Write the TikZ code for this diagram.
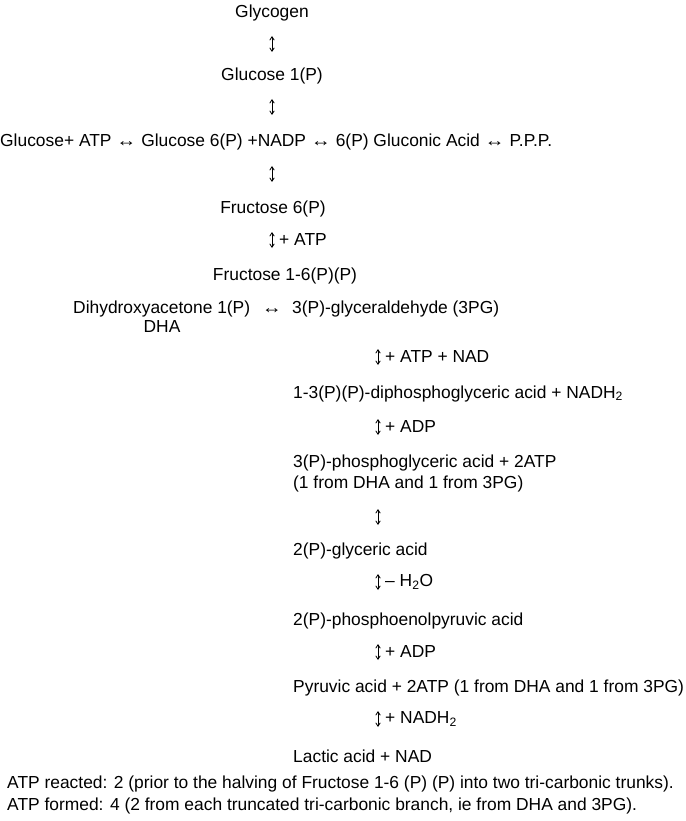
\documentclass[tikz,border=0pt]{standalone}
\usepackage{fontspec}
\usepackage{graphicx}
\setmainfont{Liberation Sans}
\usetikzlibrary{arrows.meta}
\newcommand{\lrarr}{\scalebox{1.15}[1]{↔}}
\begin{document}
\begin{tikzpicture}[x=1pt,y=-1pt,
  txt/.style={inner sep=0pt,font=\fontsize{17.4}{21}\selectfont},
  vud/.style={{Straight Barb[length=3.5pt,width=4.5pt]}-{Straight Barb[length=3.5pt,width=4.5pt]},line width=0.8pt}]
\useasboundingbox (0,0) rectangle (685,821);
% top column
\node[txt,anchor=base] (gly) at (272,18) {Glycogen};
\node[txt,anchor=base] (g1p) at (272,81) {Glucose 1(P)};
\node[txt,anchor=base west] (main) at (0,147) {Glucose+ ATP \lrarr{} Glucose 6(P) +NADP \lrarr{} 6(P) Gluconic Acid \lrarr{} P.P.P.};
\node[txt,anchor=base] (f6p) at (273,213) {Fructose 6(P)};
\node[txt,anchor=base] (f16) at (285,280) {Fructose 1-6(P)(P)};
\node[txt,anchor=base west] (dha1) at (73,313) {Dihydroxyacetone 1(P)};
\node[txt,anchor=base] (dhaarr) at (272,313) {\lrarr};
\node[txt,anchor=base west] (gap) at (292,313) {3(P)-glyceraldehyde (3PG)};
\node[txt,anchor=base] (dha) at (162,332) {DHA};
% lower column
\node[txt,anchor=base west] (dpg) at (293,398) {1-3(P)(P)-diphosphoglyceric acid + NADH\textsubscript{2}};
\node[txt,anchor=base west] (pg3) at (293,467) {3(P)-phosphoglyceric acid + 2ATP};
\node[txt,anchor=base west] (pg3b) at (293,488) {(1 from DHA and 1 from 3PG)};
\node[txt,anchor=base west] (pg2) at (293,555) {2(P)-glyceric acid};
\node[txt,anchor=base west] (pep) at (293,625) {2(P)-phosphoenolpyruvic acid};
\node[txt,anchor=base west] (pyr) at (293,692) {Pyruvic acid + 2ATP (1 from DHA and 1 from 3PG)};
\node[txt,anchor=base west] (lac) at (293,762) {Lactic acid + NAD};
% footnote
\node[txt,anchor=base west] (n1) at (7,788) {ATP reacted: 2 (prior to the halving of Fructose 1-6 (P) (P) into two tri-carbonic trunks).};
\node[txt,anchor=base west] (n2) at (7,810) {ATP formed: 4 (2 from each truncated tri-carbonic branch, ie from DHA and 3PG).};
% arrow positions
\coordinate (a1) at (272,44);
\coordinate (a2) at (272,107);
\coordinate (a3) at (272,174);
\coordinate (a4) at (272,240);
\coordinate (a5) at (378,357);
\coordinate (a6) at (378,427);
\coordinate (a7) at (378,517);
\coordinate (a8) at (378,582);
\coordinate (a9) at (378,652);
\coordinate (a10) at (378,719);
\foreach \a in {a1,a2,a3,a4,a5,a6,a7,a8,a9,a10}
  \draw[vud] ([yshift=8pt]\a) -- ([yshift=-8pt]\a);
\node[txt,anchor=west] (l4) at ([xshift=7pt]a4) {+ ATP};
\node[txt,anchor=west] (l5) at ([xshift=7pt]a5) {+ ATP + NAD};
\node[txt,anchor=west] (l6) at ([xshift=7pt]a6) {+ ADP};
\node[txt,anchor=west] (l8) at ([xshift=7pt]a8) {– H\textsubscript{2}O};
\node[txt,anchor=west] (l9) at ([xshift=7pt]a9) {+ ADP};
\node[txt,anchor=west] (l10) at ([xshift=7pt]a10) {+ NADH\textsubscript{2}};
\end{tikzpicture}
\end{document}
